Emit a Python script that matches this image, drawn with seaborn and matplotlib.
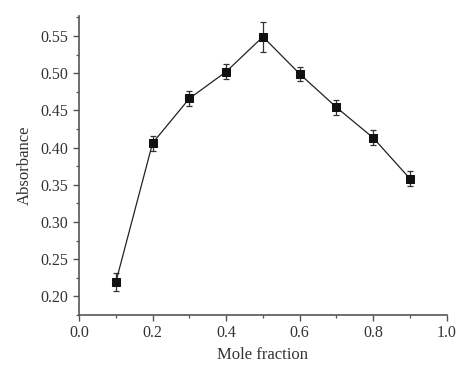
import matplotlib
matplotlib.use('Agg')
import matplotlib.pyplot as plt
import seaborn as sns
import pandas as pd
from matplotlib.ticker import MultipleLocator

# data
mole_fraction = [0.1, 0.2, 0.3, 0.4, 0.5, 0.6, 0.7, 0.8, 0.9]
absorbance = [0.219, 0.406, 0.466, 0.502, 0.549, 0.499, 0.454, 0.413, 0.358]
abs_error = [0.012, 0.010, 0.010, 0.010, 0.020, 0.010, 0.010, 0.010, 0.010]

df = pd.DataFrame({'Mole fraction': mole_fraction, 'Absorbance': absorbance})

sns.set_style('ticks')
plt.rcParams['font.family'] = ['Liberation Serif', 'DejaVu Serif']

fig = plt.figure(figsize=(4.74, 3.79), dpi=100)
ax = fig.add_axes([0.1667, 0.169, 0.776, 0.789])

ax.errorbar(mole_fraction, absorbance, yerr=abs_error, fmt='none',
            ecolor='#333333', elinewidth=0.9, capsize=2.5, capthick=0.9, zorder=2)
sns.lineplot(data=df, x='Mole fraction', y='Absorbance', ax=ax, color='#222222',
             linewidth=0.9, marker='s', markersize=6, markerfacecolor='#111111',
             markeredgecolor='#111111', zorder=3)

ax.set_xlim(0.0, 1.0)
ax.set_ylim(0.175, 0.577)
ax.xaxis.set_major_locator(MultipleLocator(0.2))
ax.xaxis.set_minor_locator(MultipleLocator(0.1))
ax.yaxis.set_major_locator(MultipleLocator(0.05))
ax.yaxis.set_minor_locator(MultipleLocator(0.025))
ax.xaxis.set_major_formatter(matplotlib.ticker.FormatStrFormatter('%.1f'))
ax.yaxis.set_major_formatter(matplotlib.ticker.FormatStrFormatter('%.2f'))

for s in ['top', 'right']:
    ax.spines[s].set_visible(False)
for s in ['left', 'bottom']:
    ax.spines[s].set_color('#555555')
    ax.spines[s].set_linewidth(1.2)

ax.tick_params(which='major', direction='out', length=4, width=1, color='#555555',
               labelsize=11.5, labelcolor='#333333')
ax.tick_params(which='minor', direction='out', length=2.5, width=0.9, color='#555555')

ax.set_xlabel('Mole fraction', fontsize=12, color='#333333', labelpad=4)
ax.set_ylabel('Absorbance', fontsize=12, color='#333333', labelpad=6)

fig.savefig('out.png', dpi=100)
